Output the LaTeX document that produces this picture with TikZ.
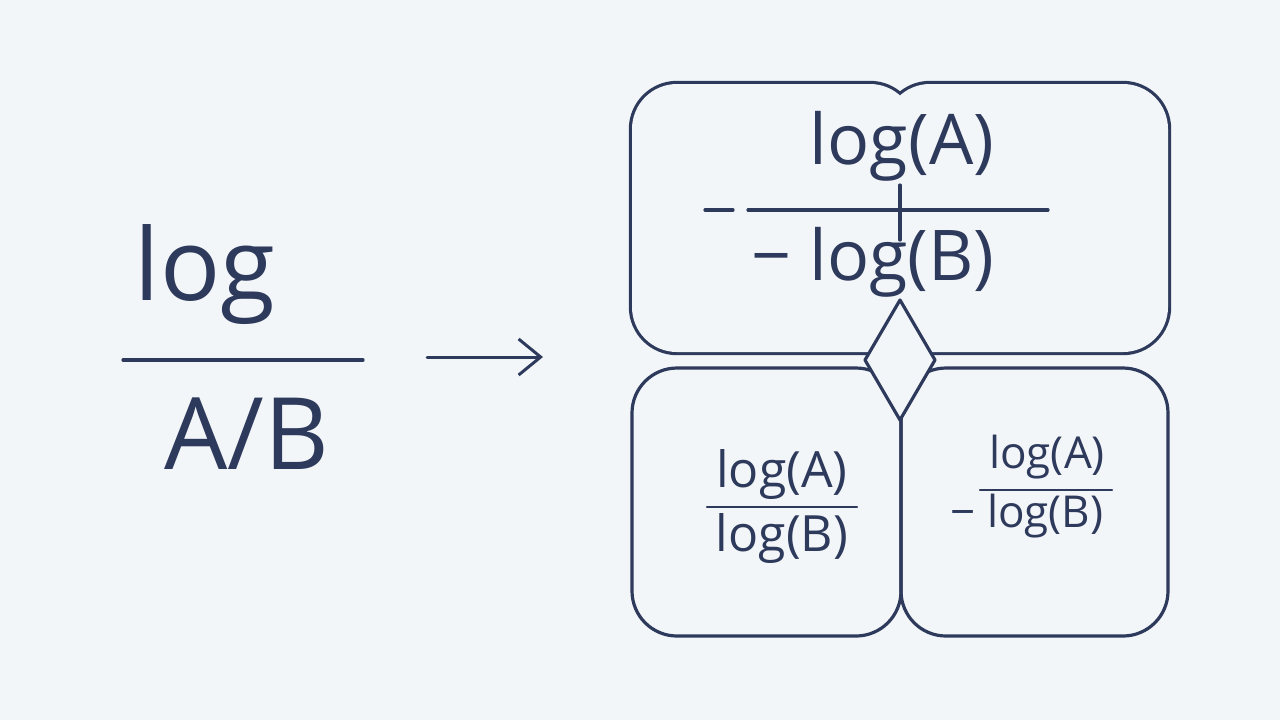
\documentclass[tikz,border=0pt]{standalone}
\usepackage{fontspec}
\setmainfont{Open Sans}
\usetikzlibrary{arrows.meta}
\definecolor{bg}{HTML}{F3F6F9}
\definecolor{ink}{HTML}{2E3A5C}
\begin{document}
\begin{tikzpicture}[x=0.5pt,y=-0.5pt,
  ln/.style={draw=ink,line width=1.6pt,line cap=round},
  txt/.style={text=ink,inner sep=0pt,anchor=center}]
\fill[bg] (0,0) rectangle (1280,720);
\useasboundingbox (0,0) rectangle (1280,720);
% left fraction
\node[txt,font=\fontsize{50}{50}\selectfont] (log) at (205,275) {log};
\draw[ln] (123,360) -- (363,360);
\node[txt,font=\fontsize{50}{50}\selectfont] (ab) at (247,434) {A/B};
\coordinate (a1) at (427,357); \coordinate (a2) at (543,357);
\draw[ln,line width=1.5pt,-{Straight Barb[length=11pt,width=18pt]}] (a1) -- (a2);
% top box (union of two rounded rects)
\draw[draw=ink,line width=3.2pt,rounded corners=22.5pt] (632,84) rectangle (915,352);
\draw[draw=ink,line width=3.2pt,rounded corners=22.5pt] (885,84) rectangle (1168,352);
\fill[bg,rounded corners=22.5pt] (632,84) rectangle (915,352);
\fill[bg,rounded corners=22.5pt] (885,84) rectangle (1168,352);
% bottom boxes
\draw[draw=ink,line width=1.6pt,rounded corners=22.5pt] (632,368) rectangle (901,636);
\draw[draw=ink,line width=1.6pt,rounded corners=22.5pt] (901,368) rectangle (1168,636);
% diamond
\draw[draw=ink,line width=1.6pt,fill=bg,line join=round] (900,300) -- (935,360) -- (900,420) -- (865,360) -- cycle;
% top texts
\node[txt,font=\fontsize{35}{35}\selectfont] (t1) at (902,146) {log(A)};
\draw[ln] (748,210) -- (1048,210);
\draw[ln] (705,210) -- (733,210);
\draw[ln] (900,185) -- (900,240);
\node[txt,font=\fontsize{35}{35}\selectfont] (t2) at (873,262) {− log(B)};
% bottom left
\node[txt,font=\fontsize{25}{25}\selectfont] (b1) at (782,474) {log(A)};
\draw[ln,line width=1.2pt] (707,507) -- (857,507);
\node[txt,font=\fontsize{25}{25}\selectfont] (b2) at (782,538) {log(B)};
% bottom right
\node[txt,font=\fontsize{22}{22}\selectfont] (c1) at (1047,457) {log(A)};
\draw[ln,line width=1.2pt] (980,490) -- (1112,490);
\node[txt,font=\fontsize{22}{22}\selectfont] (c2) at (1027,516) {− log(B)};
\end{tikzpicture}
\end{document}
